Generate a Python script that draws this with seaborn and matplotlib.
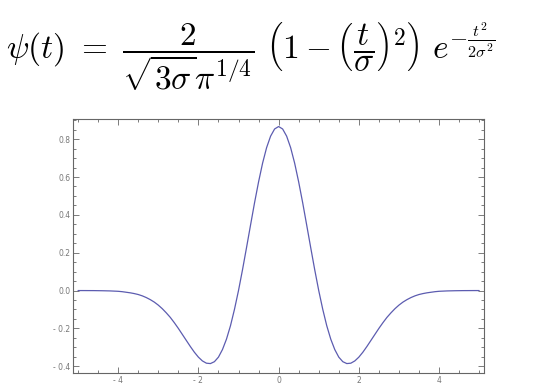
import matplotlib
matplotlib.use("Agg")
import matplotlib.pyplot as plt
import seaborn as sns
import pandas as pd
from matplotlib.ticker import MultipleLocator, FixedLocator, FixedFormatter

t_values = [-5.0, -4.9, -4.8, -4.7, -4.6, -4.5, -4.4, -4.3, -4.2, -4.1,
            -4.0, -3.9, -3.8, -3.7, -3.6, -3.5, -3.4, -3.3, -3.2, -3.1,
            -3.0, -2.9, -2.8, -2.7, -2.6, -2.5, -2.4, -2.3, -2.2, -2.1,
            -2.0, -1.9, -1.8, -1.7, -1.6, -1.5, -1.4, -1.3, -1.2, -1.1,
            -1.0, -0.9, -0.8, -0.7, -0.6, -0.5, -0.4, -0.3, -0.2, -0.1,
            0.0, 0.1, 0.2, 0.3, 0.4, 0.5, 0.6, 0.7, 0.8, 0.9,
            1.0, 1.1, 1.2, 1.3, 1.4, 1.5, 1.6, 1.7, 1.8, 1.9,
            2.0, 2.1, 2.2, 2.3, 2.4, 2.5, 2.6, 2.7, 2.8, 2.9,
            3.0, 3.1, 3.2, 3.3, 3.4, 3.5, 3.6, 3.7, 3.8, 3.9,
            4.0, 4.1, 4.2, 4.3, 4.4, 4.5, 4.6, 4.7, 4.8, 4.9, 5.0]

psi_values = [-0.0001, -0.0001, -0.0002, -0.0003, -0.0004, -0.0007, -0.001, -0.0015, -0.002, -0.003,
              -0.004, -0.006, -0.009, -0.012, -0.016, -0.021, -0.028, -0.037, -0.048, -0.061,
              -0.077, -0.096, -0.118, -0.142, -0.170, -0.200, -0.232, -0.264, -0.296, -0.326,
              -0.352, -0.372, -0.384, -0.386, -0.376, -0.352, -0.312, -0.257, -0.186, -0.099,
              0.000, 0.110, 0.227, 0.346, 0.464, 0.574, 0.673, 0.755, 0.816, 0.854,
              0.867, 0.854, 0.816, 0.755, 0.673, 0.574, 0.464, 0.346, 0.227, 0.110,
              0.000, -0.099, -0.186, -0.257, -0.312, -0.352, -0.376, -0.386, -0.384, -0.372,
              -0.352, -0.326, -0.296, -0.264, -0.232, -0.200, -0.170, -0.142, -0.118, -0.096,
              -0.077, -0.061, -0.048, -0.037, -0.028, -0.021, -0.016, -0.012, -0.009, -0.006,
              -0.004, -0.003, -0.002, -0.0015, -0.001, -0.0007, -0.0004, -0.0003, -0.0002, -0.0001, -0.0001]

x_ticks = [-4, -2, 0, 2, 4]
x_tick_labels = ["- 4", "- 2", "0", "2", "4"]
y_ticks = [-0.4, -0.2, 0.0, 0.2, 0.4, 0.6, 0.8]
y_tick_labels = ["- 0.4", "- 0.2", "0.0", "0.2", "0.4", "0.6", "0.8"]

formula = (r"$\psi(t)\ =\ \dfrac{2}{\sqrt{3\sigma}\pi^{1/4}}\ "
           r"\left(1 - \left(\dfrac{t}{\sigma}\right)^2\right)\ e^{-\frac{t^2}{2\sigma^2}}$")

sns.set_theme(style="ticks")
plt.rcParams["mathtext.fontset"] = "cm"

df = pd.DataFrame({"t": t_values, "psi": psi_values})

fig = plt.figure(figsize=(5.41, 3.90), dpi=100)
ax = fig.add_axes([0.135, 0.044, 0.760, 0.651])

sns.lineplot(data=df, x="t", y="psi", ax=ax, color="#5c5cb0", linewidth=0.9)

ax.set_xlim(-5.125, 5.125)
ax.set_ylim(-0.435, 0.907)
ax.set_xlabel("")
ax.set_ylabel("")

ax.xaxis.set_major_locator(FixedLocator(x_ticks))
ax.xaxis.set_major_formatter(FixedFormatter(x_tick_labels))
ax.yaxis.set_major_locator(FixedLocator(y_ticks))
ax.yaxis.set_major_formatter(FixedFormatter(y_tick_labels))
ax.xaxis.set_minor_locator(MultipleLocator(0.5))
ax.yaxis.set_minor_locator(MultipleLocator(0.05))

frame_color = "#666666"
for s in ax.spines.values():
    s.set_color(frame_color)
    s.set_linewidth(0.8)

ax.tick_params(which="both", direction="in", top=True, right=True,
               color=frame_color, width=0.6)
ax.tick_params(which="major", length=4, labelsize=5.5, labelcolor="#777777", pad=2)
ax.tick_params(which="minor", length=2)

fig.text(0.012, 0.855, formula, fontsize=24, ha="left", va="center", color="black")

fig.savefig("out.png", dpi=100)
